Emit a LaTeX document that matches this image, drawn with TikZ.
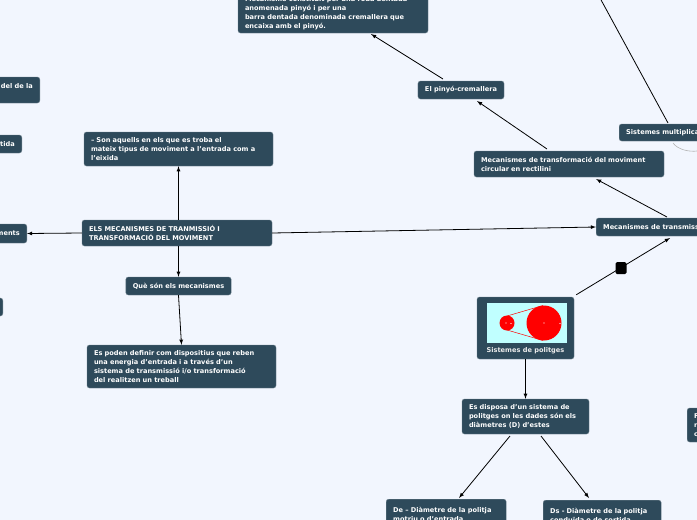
\documentclass[tikz,border=0pt]{standalone}
\usepackage{fontspec}
\setmainfont{DejaVu Sans}
\definecolor{bg}{HTML}{F2F6FE}
\definecolor{boxc}{HTML}{2E4A5B}
\definecolor{cyanimg}{HTML}{C0FFFF}
\begin{document}
\begin{tikzpicture}[x=1pt,y=-1pt,
  box/.style={fill=boxc,draw=boxc!70!white,line width=0.4pt,rounded corners=2.5pt,text=white,
    font=\fontsize{6.6}{9}\selectfont\bfseries,align=left,inner xsep=7pt,inner ysep=3pt},
  arr/.style={-latex,line width=0.8pt,black}]
\useasboundingbox (0,0) rectangle (697,520);
\clip (0,0) rectangle (697,520);
\fill[bg] (0,0) rectangle (697,520);
% helper: nodes placed by centre
\node[box,text width=176pt,minimum height=40pt] (top) at (333,13) {Mecanisme constituït per una roda dentada\\anomenada pinyó i per una\\barra dentada denominada cremallera que\\encaixa amb el pinyó.};
\node[box,minimum height=18pt] (pin) at (461,90) {El pinyó-cremallera};
\node[box,minimum height=17pt,anchor=west] (mult) at (619,132.5) {Sistemes multiplicadors de velocitat};
\node[box,text width=176pt,minimum height=26pt] (tf) at (569,164) {Mecanismes de transformació del moviment\\circular en rectilini};
\node[box,minimum height=18pt,anchor=west] (tm) at (596,227) {Mecanismes de transmissió del moviment};
\node[box,text width=176pt,minimum height=26pt] (main) at (177,233) {ELS MECANISMES DE TRANMISSIÓ I\\TRANSFORMACIÓ DEL MOVIMENT};
\node[box,text width=175pt,minimum height=34pt] (son) at (178.5,149) {– Son aquells en els que es troba el\\mateix tipus de moviment a l’entrada com a\\l’eixida};
\node[box,minimum height=18pt] (que) at (178.5,286) {Què són els mecanismes};
\node[box,text width=175pt,minimum height=43pt] (poden) at (181.5,366.5) {Es poden definir com dispositius que reben\\una energia d’entrada i a través d’un\\sistema de transmissió i/o transformació\\del realitzen un treball};
\node[box,minimum width=97pt,minimum height=62pt] (pol) at (525.5,328) {};
\node[box,text width=113pt,minimum height=35pt] (disp) at (525.5,416.5) {Es disposa d’un sistema de\\politges on les dades són els\\diàmetres (D) d’estes};
\node[box,text width=106pt,minimum height=30pt,anchor=north west] (de) at (386,499) {De – Diàmetre de la politja\\motriu o d’entrada};
\node[box,text width=104pt,minimum height=30pt,anchor=north west] (ds) at (543,500) {Ds - Diàmetre de la politja\\conduïda o de sortida};
% left clipped
\node[box,minimum height=26pt,anchor=east] (l1) at (40,90) {Funcionament del de la\\ };
\node[box,minimum height=18pt,anchor=east] (l2) at (22,144) {Sortida};
\node[box,minimum height=19pt,anchor=east] (l3) at (27,233.5) {Elements};
\node[box,minimum height=18pt,anchor=east] (l4) at (3,307) {Tipus};
\node[box,minimum height=34pt,anchor=west] (r1) at (687,425) {F\\n\\c};
% pulley image
\fill[cyanimg] (487,303) rectangle (567,343);
\draw[red,line width=0.5pt] (507,316) -- (543,305.5);
\draw[red,line width=0.5pt] (507,330) -- (543,340.5);
\fill[red] (507,323) circle (7.5);
\fill[red] (544,323) circle (17.5);
\fill[white] (506,323) circle (0.6) (511,323.5) circle (0.6) (544,323) circle (0.6) (560,323.5) circle (0.6);
\node[text=white!85!gray,font=\fontsize{6.6}{9}\selectfont\bfseries] at (525.5,350.5) {Sistemes de politges};
% connectors
\draw[arr] (main.north -| son) -- (son.south);
\draw[arr] (main.south -| que) -- (que.north);
\draw[arr] (que.south) -- (poden.north);
\draw[arr] (main.west) -- (l3.east);
\draw[arr] (main.east) -- (tm.west);
\draw[arr] (667,217) -- (596,179);
\draw[arr] (547,149) -- (477,101);
\draw[arr] (443,79) -- (371,34);
\draw[line width=0.8pt] (668,123) -- (600,-2);
\draw[gray!60,line width=0.6pt] (673,143) .. controls (678,150) and (690,152) .. (697,151);
\draw[arr] (pol.north east) ++(2,-2) -- (670,238);
\fill[black,rounded corners=1.5pt] (615.5,262) rectangle (626.5,274);
\draw[arr] (pol.south) -- (disp.north);
\draw[arr] (510,436) -- (459,498);
\draw[arr] (541,436) -- (589,498);
\end{tikzpicture}
\end{document}
